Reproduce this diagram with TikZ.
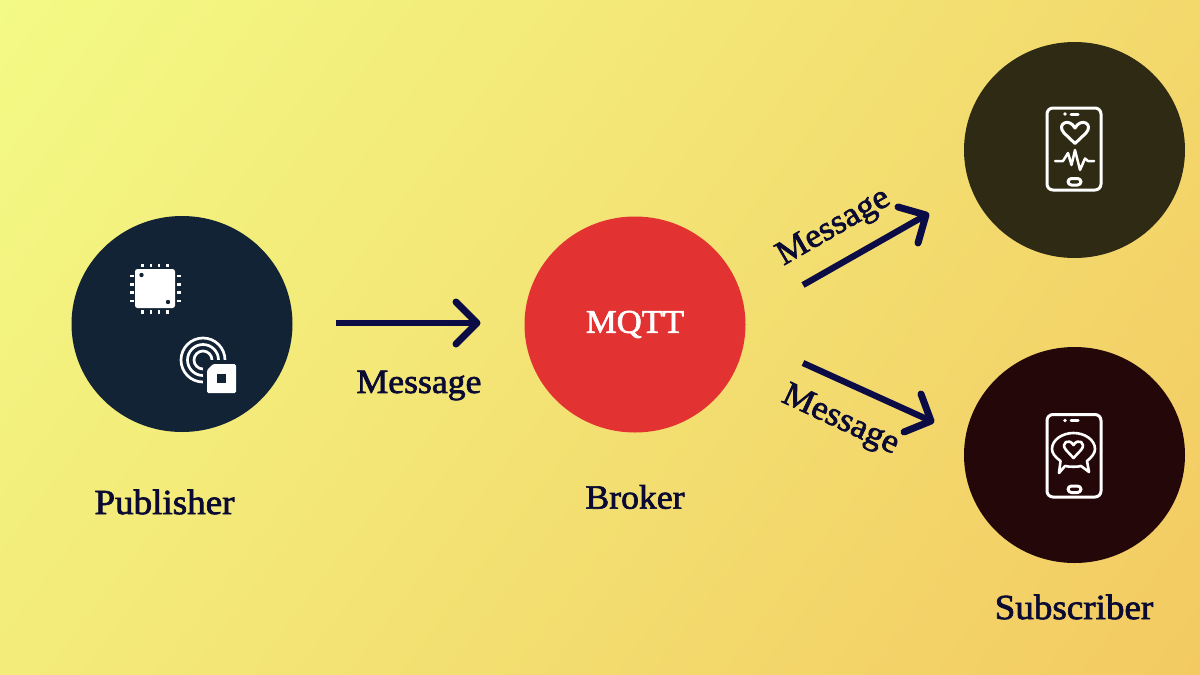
\documentclass[tikz,border=0pt]{standalone}
\usepackage{fontspec}
\newfontfamily\labelfont[FakeStretch=1.05,FakeBold=2]{Liberation Serif}
\definecolor{ink}{HTML}{0B0B45}
\definecolor{msgink}{HTML}{0A0A32}
\definecolor{pubc}{HTML}{122336}
\definecolor{brokc}{HTML}{E23231}
\definecolor{subA}{HTML}{2F2A14}
\definecolor{subB}{HTML}{240709}
\definecolor{bgA}{HTML}{F3FA85}
\definecolor{bgB}{HTML}{F2E27A}
\definecolor{bgC}{HTML}{F3CA62}
\tikzset{
  x=1pt,y=-1pt,
  hub/.style={ellipse,inner sep=0pt,minimum width=#1*1pt,minimum height=216pt},
  shaft/.style={draw=ink,line width=6.3pt},
  barb/.style={draw=ink,line width=7pt,line cap=round,line join=round},
  lbl/.style={font=\labelfont\fontsize{34}{36}\selectfont,text=msgink,inner sep=0pt},
  biglbl/.style={font=\labelfont\fontsize{35.3}{38}\selectfont,text=msgink,inner sep=0pt},
  icon/.style={draw=white,line width=3pt,line cap=round,line join=round},
  pin/.style={draw=white,line width=2.6pt},
}
\usetikzlibrary{shapes.geometric}
\begin{document}
\begin{tikzpicture}
\useasboundingbox (0,0) rectangle (1200,675);
\begin{scope}
  \clip (0,0) rectangle (1200,675);
  \begin{scope}[transform canvas={rotate around={-37:(600,337.5)}}]
    \shade[left color=bgA,middle color=bgB,right color=bgC] (-82,-600) rectangle (1282,1275);
  \end{scope}
\end{scope}

% hubs
\node[hub=221,fill=pubc] (pub) at (182,324) {};
\node[hub=221,fill=brokc,text=white,font=\labelfont\fontsize{33}{36}\selectfont] (broker) at (635,324.5) {\raisebox{-2pt}{MQTT}};
\node[hub=221,fill=subA] (subone) at (1074.5,150) {};
\node[hub=221,fill=subB] (subtwo) at (1074.5,455) {};

% labels
\node[biglbl] (publabel) at (164.5,502) {Publisher};
\node[lbl] (brokerlabel) at (635,497) {Broker};
\node[biglbl] (sublabel) at (1074,607) {Subscriber};
\node[lbl] (msgA) at (419,385.5) {Message};
\node[lbl,rotate=30] (msgB) at (834,228) {Message};
\node[lbl,rotate=-25] (msgC) at (840,421) {Message};

% arrows
\coordinate (aS) at (336,323); \coordinate (aT) at (477,323);
\coordinate (aU) at (456,302); \coordinate (aD) at (456,344);
\draw[shaft] (aS) -- (aT);
\draw[barb] (aU) -- (aT) -- (aD);
\coordinate (bS) at (803,285); \coordinate (bT) at (926,215);
\coordinate (bU) at (898,207); \coordinate (bD) at (918,243);
\draw[shaft] (bS) -- (bT);
\draw[barb] (bU) -- (bT) -- (bD);
\coordinate (cS) at (803,363); \coordinate (cT) at (931,421);
\coordinate (cU) at (921,394); \coordinate (cD) at (904,432);
\draw[shaft] (cS) -- (cT);
\draw[barb] (cU) -- (cT) -- (cD);

% chip icon
\fill[white,rounded corners=2.5pt] (135,269) rectangle (175,308);
\fill[pubc] (141.5,275) circle (2.2) (168,302) circle (2.2);
\foreach \p in {142.7,150.9,159.1,167.3}{
  \draw[pin] (\p,263.5) -- (\p,267);
  \draw[pin] (\p,310) -- (\p,313.5);
}
\foreach \p in {276,284.3,292.7,301}{
  \draw[pin] (130,\p) -- (134,\p);
  \draw[pin] (176.5,\p) -- (180.5,\p);
}
% tag icon
\draw[white,line width=2.7pt] (203,360) circle (22) circle (15.5) circle (9);
\fill[pubc] (203,362) -- (206,360) -- (240,360) -- (240,397) -- (203,397) -- cycle;
\fill[white,rounded corners=1.5pt] (213,364) -- (236,364) -- (236,393) -- (207,393) -- (207,370) -- cycle;
\fill[pubc] (216.7,374) rectangle (225.5,383);

% phone with pulse
\begin{scope}
  \draw[icon,rounded corners=6pt] (1047,108) rectangle (1101,190);
  \fill[white] (1065,114) circle (1.8);
  \draw[icon] (1071,114) -- (1078,114);
  \draw[icon] (1075,143.5) -- (1064,133) .. controls (1056,124) and (1069,117) .. (1075,128)
     .. controls (1081,117) and (1094,124) .. (1086,133) -- cycle;
  \draw[icon,line width=2.5pt] (1055,161) -- (1063,161) -- (1068,153) -- (1071.5,165) -- (1075,150) -- (1080,170) -- (1085,158.5) -- (1088,161) -- (1094,161);
  \draw[icon,rounded corners=3.4pt] (1068,178.5) rectangle (1081,185);
\end{scope}

% phone with chat
\begin{scope}
  \draw[icon,rounded corners=6pt] (1047,414.5) rectangle (1101,497);
  \fill[white] (1065,420.5) circle (1.8);
  \draw[icon] (1071,420.5) -- (1078,420.5);
  \draw[icon,line width=2.6pt] (1065,466) -- (1059,473) -- (1060.5,461) .. controls (1055,457) and (1052,453) .. (1052,449)
    .. controls (1052,440) and (1062,433) .. (1073.5,433) .. controls (1085,433) and (1095,440) .. (1095,449)
    .. controls (1095,453) and (1092,457) .. (1087,461) -- (1089,472) -- (1081,466)
    .. controls (1078,467) and (1069,467) .. (1065,466) -- cycle;
  \draw[icon,line width=2.6pt] (1073.5,458) -- (1066,450) .. controls (1060,443) and (1069,437.5) .. (1073.5,445)
    .. controls (1078,437.5) and (1087,443) .. (1081,450) -- cycle;
  \draw[icon,rounded corners=3.4pt] (1068,486) rectangle (1081,492.5);
\end{scope}
\end{tikzpicture}
\end{document}
